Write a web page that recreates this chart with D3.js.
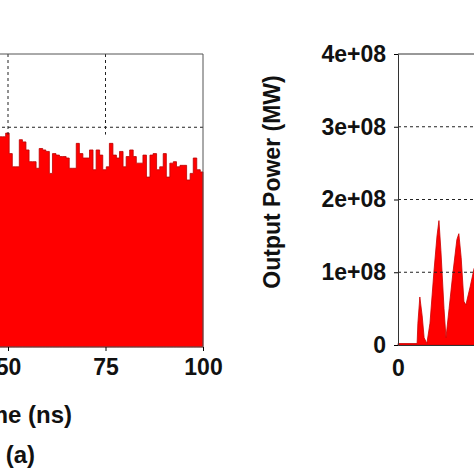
<!DOCTYPE html><html><head><meta charset="utf-8">
<script src="https://cdn.jsdelivr.net/npm/d3@7"></script>
<style>body{margin:0;background:#fff}text{font-family:"Liberation Sans",Arial,sans-serif;font-weight:bold;fill:#111}</style>
</head><body><svg id="c" width="474" height="474"></svg>
<script>
const leftTimes=[40,47.7,48.6,49.4,50.3,51.1,52.0,52.9,53.7,54.6,55.4,56.3,57.2,58.0,58.9,59.7,60.6,61.4,62.3,63.2,64.0,64.9,65.7,66.6,67.5,68.3,69.2,70.0,70.9,71.8,72.6,73.5,74.3,75.2,76.0,76.9,77.8,78.6,79.5,80.3,81.2,82.1,82.9,83.8,84.6,85.5,86.4,87.2,88.1,88.9,89.8,90.6,91.5,92.4,93.2,94.1,94.9,95.8,96.7,97.5,98.4,99.3,100];
const leftPower=[2.85,2.87,2.87,2.92,2.64,2.46,2.46,2.83,2.80,2.69,2.53,2.53,2.44,2.71,2.69,2.67,2.37,2.64,2.62,2.60,2.60,2.58,2.44,2.44,2.78,2.64,2.58,2.58,2.69,2.42,2.69,2.62,2.42,2.46,2.78,2.62,2.58,2.67,2.46,2.60,2.69,2.60,2.51,2.51,2.62,2.32,2.62,2.64,2.42,2.46,2.64,2.32,2.51,2.53,2.46,2.48,2.48,2.28,2.37,2.58,2.42,2.39,2.28];
const rightTimes=[0,4.9,5.1,5.6,6.2,6.7,7.4,8.2,9.2,10.0,10.5,11.0,11.8,12.3,13.1,14.1,15.1,15.6,16.2,16.9,17.4,18.5,19.5,21];
const rightPower=[0.02,0.02,0.3,0.66,0.4,0.1,0.02,0.3,1.0,1.5,1.71,1.3,0.5,0.1,0.5,1.0,1.45,1.53,1.2,0.6,0.55,0.8,1.05,1.2];
const yTicks=[0,1,2,3,4];
const yLabels=["0","1e+08","2e+08","3e+08","4e+08"];
const xTicksLeft=[50,75,100];

const svg=d3.select("#c");
const pTop=54,pBot=347;
// left panel
const xl=d3.scaleLinear().domain([0,100]).range([-187,203]);
const yl=d3.scaleLinear().domain([0,4]).range([pBot,pTop]);
const gL=svg.append("g");
gL.append("path").datum(leftTimes.map((t,i)=>[t,leftPower[i]]))
 .attr("d",d3.area().curve(d3.curveStepAfter).x(d=>xl(d[0])).y0(yl(0)).y1(d=>yl(d[1])))
 .attr("fill","#f00").attr("stroke","#b00").attr("stroke-width",0.8);
gL.append("line").attr("x1",-10).attr("x2",xl(100)).attr("y1",yl(3)).attr("y2",yl(3)).attr("stroke","#222").attr("stroke-dasharray","3,3");
[50,75].forEach(v=>gL.append("line").attr("x1",xl(v)).attr("x2",xl(v)).attr("y1",pTop).attr("y2",yl(2.9)).attr("stroke","#222").attr("stroke-dasharray","3,3"));
gL.append("line").attr("x1",-5).attr("x2",xl(100)).attr("y1",pTop).attr("y2",pTop).attr("stroke","#555");
gL.append("line").attr("x1",xl(100)).attr("x2",xl(100)).attr("y1",pTop).attr("y2",pBot).attr("stroke","#555");
gL.append("line").attr("x1",-5).attr("x2",xl(100)).attr("y1",pBot).attr("y2",pBot).attr("stroke","#555");
const axL=gL.append("g").attr("transform",`translate(0,${pBot})`).call(d3.axisBottom(xl).tickValues(xTicksLeft).tickSize(4).tickPadding(8));
axL.select(".domain").remove();
axL.selectAll("text").style("font-size","23px").attr("fill","#111");
gL.append("text").attr("x",72).attr("y",423).attr("text-anchor","end").style("font-size","24px").text("Time (ns)");
gL.append("text").attr("x",35).attr("y",463).attr("text-anchor","end").style("font-size","24px").text("(a)");
// right panel
const xr=d3.scaleLinear().domain([0,100]).range([398,788]);
const yr=d3.scaleLinear().domain([0,4]).range([345,pTop]);
const gR=svg.append("g");
gR.append("path").datum(rightTimes.map((t,i)=>[t,rightPower[i]]))
 .attr("d",d3.area().x(d=>xr(d[0])).y0(yr(0)).y1(d=>yr(d[1])))
 .attr("fill","#f00").attr("stroke","#c00").attr("stroke-width",0.8);
[1,2,3].forEach(v=>gR.append("line").attr("x1",398).attr("x2",480).attr("y1",yr(v)).attr("y2",yr(v)).attr("stroke","#222").attr("stroke-dasharray","3,3"));
gR.append("line").attr("x1",398).attr("x2",480).attr("y1",pTop).attr("y2",pTop).attr("stroke","#333");
const ayR=gR.append("g").attr("transform","translate(398,0)").call(d3.axisLeft(yr).tickValues(yTicks).tickFormat((d,i)=>yLabels[i]).tickSize(4).tickPadding(8));
ayR.select(".domain").attr("stroke","#333");
ayR.selectAll("text").style("font-size","23px").attr("fill","#111");
const axR=gR.append("g").attr("transform","translate(0,345)").call(d3.axisBottom(xr).tickValues([0]).tickSize(0).tickPadding(15));
axR.select(".domain").attr("stroke","#333");
axR.selectAll("text").style("font-size","23px").attr("fill","#111");
gR.append("text").attr("transform","translate(280,182) rotate(-90)").attr("text-anchor","middle").style("font-size","23px").text("Output Power (MW)");
</script></body></html>
